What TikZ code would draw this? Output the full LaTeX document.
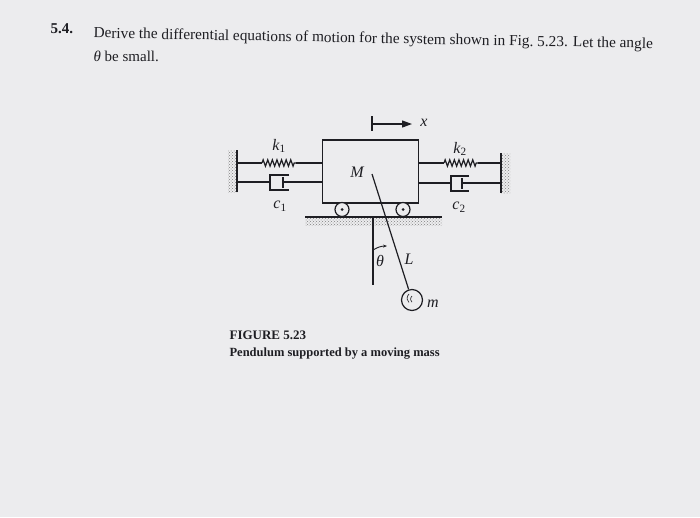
\documentclass[tikz,border=0pt]{standalone}
\usepackage{fontspec}
\setmainfont{Liberation Serif}
\usetikzlibrary{decorations.pathmorphing,patterns,arrows.meta}
\definecolor{paper}{RGB}{236,236,238}
\definecolor{ink}{RGB}{30,30,35}
\begin{document}
\begin{tikzpicture}[x=1pt,y=-1pt,line width=1.2pt,draw=ink,text=ink,
  spr/.style={decorate,decoration={zigzag,segment length=4.6pt,amplitude=3.2pt}},
  hatch/.style={pattern=crosshatch dots,pattern color=gray,draw=none},
  lbl/.style={font=\fontsize{16}{18}\selectfont\itshape,inner sep=0pt}]
\fill[paper] (0,0) rectangle (700,517);
\useasboundingbox (0,0) rectangle (700,517);
% header
\node[anchor=west,font=\fontsize{15}{18}\selectfont\bfseries,inner sep=0] (num) at (50,29) {5.4.};
\node[anchor=west,font=\fontsize{15.3}{18}\selectfont,inner sep=0,rotate=-1.1] (q1) at (93,34) {Derive the differential equations of motion for the system shown in Fig.~5.23. Let the angle};
\node[anchor=west,font=\fontsize{15}{18}\selectfont,inner sep=0] (q2) at (93,56) {\textit{θ} be small.};
% block
\node[draw,minimum width=96pt,minimum height=63pt,inner sep=0] (M) at (370.5,171.5) {};
\node[lbl] (Ml) at (357,172) {M};
% ground
\fill[hatch] (305,217) rectangle (442,225);
\draw (305,217) -- (442,217);
\node[draw,circle,minimum size=14pt,inner sep=0,fill=paper] (w1) at (342,209.5) {};
\node[draw,circle,minimum size=14pt,inner sep=0,fill=paper] (w2) at (403,209.5) {};
\fill[ink] (w1) circle (1.5pt) (w2) circle (1.5pt);
% walls
\fill[hatch] (228,150) rectangle (237,192);
\draw[line width=1.6pt] (237,150) -- (237,192);
\fill[hatch] (501,153) rectangle (510,193);
\draw[line width=1.6pt] (501,153) -- (501,193);
% spring k1
\coordinate (s1a) at (237,163); \coordinate (s1b) at (262,163);
\coordinate (s1c) at (296,163); \coordinate (s1d) at (322,163);
\draw (s1a) -- (s1b);
\draw[spr] (s1b) -- (s1c);
\draw (s1c) -- (s1d);
\node[lbl] (k1) at (279,146) {k\textsubscript{\normalfont 1}};
% damper c1
\draw (237,182) -- (270,182);
\draw (289,175) -- (270,175) -- (270,190) -- (289,190);
\draw (283,177) -- (283,188);
\draw (283,182) -- (322,182);
\node[lbl] (c1) at (280,206) {c\textsubscript{\normalfont 1}};
% spring k2
\draw (419,163) -- (444,163);
\draw[spr] (444,163) -- (478,163);
\draw (478,163) -- (501,163);
\node[lbl] (k2) at (460,149) {k\textsubscript{\normalfont 2}};
% damper c2
\draw (419,183) -- (451,183);
\draw (469,176) -- (451,176) -- (451,191) -- (469,191);
\draw (462,178) -- (462,189);
\draw (462,183) -- (501,183);
\node[lbl] (c2) at (459,207) {c\textsubscript{\normalfont 2}};
% x arrow
\draw (372,116) -- (372,131);
\draw[-{Triangle[length=10pt,width=7pt]}] (372,124) -- (412,124);
\node[lbl] (xl) at (424,123) {x};
% pendulum
\coordinate (piv) at (372,174);
\node[draw,circle,minimum size=21pt,inner sep=0] (bob) at (412,300) {};
\draw (piv) -- (bob);
\draw (373,217) -- (373,285);
\draw[line width=0.9pt,-{Stealth[length=4pt]}] (373,250) to[bend left=15] (387,246);
\node[lbl] (th) at (380,261) {θ};
\node[lbl] (Ll) at (409,259) {L};
\node[lbl] (ml) at (433,304) {m};
\draw[line width=0.6pt] (409,294) arc (130:230:5.5pt);
\draw[line width=0.6pt] (412,296) arc (130:230:4pt);
% caption
\node[anchor=west,font=\fontsize{13}{15}\selectfont\bfseries,inner sep=0] (cap1) at (229,335) {FIGURE 5.23};
\node[anchor=west,font=\fontsize{12.5}{15}\selectfont\bfseries,inner sep=0] (cap2) at (229,354) {Pendulum supported by a moving mass};
\end{tikzpicture}
\end{document}
